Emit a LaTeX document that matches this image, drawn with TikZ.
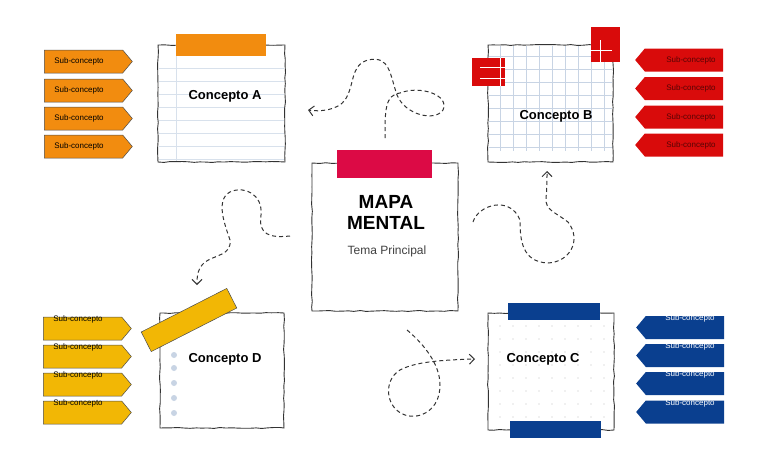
\documentclass[tikz,border=0pt]{standalone}
\usepackage{fontspec}
\setmainfont{Liberation Sans}
\usetikzlibrary{shapes.symbols,decorations.pathmorphing,arrows.meta}
\definecolor{orng}{HTML}{F28C0F}
\definecolor{rd}{HTML}{D90B0B}
\definecolor{crim}{HTML}{DC0A45}
\definecolor{ylw}{HTML}{F2B705}
\definecolor{blu}{HTML}{0A3F8F}
\definecolor{gridc}{HTML}{C8D4E4}
\begin{document}
\begin{tikzpicture}[x=1pt,y=-1pt,
  paper/.style={draw=black!80,line width=0.9pt,fill=white,decorate,decoration={random steps,segment length=6pt,amplitude=0.5pt}},
  sigR/.style={shape=signal,signal to=east,signal pointer angle=100,minimum width=88pt,minimum height=23pt,inner sep=0pt,draw=black!70,line width=0.5pt,fill=#1},
  sigL/.style={shape=signal,signal to=west,signal pointer angle=100,minimum width=88pt,minimum height=23pt,inner sep=0pt,fill=#1},
  subt/.style={font=\fontsize{8}{9}\selectfont},
  clab/.style={font=\bfseries\fontsize{13}{15}\selectfont},
  conn/.style={dash pattern=on 4pt off 3pt,line width=1pt,black!80,-{Straight Barb[length=5pt,width=10pt]}}]
\useasboundingbox (0,0) rectangle (768,466);
% ---- Concepto A
\draw[paper] (158,45) rectangle (285,162);
\begin{scope}
\clip (159,46) rectangle (284,161);
\foreach \y in {68,81,...,160} \draw[gridc!70,line width=0.5pt] (159,\y) -- (284,\y);
\draw[gridc!70,line width=0.5pt] (176,46) -- (176,161);
\end{scope}
\fill[orng] (176,34) rectangle (266,56);
\node[clab] (ca) at (225,96) {Concepto A};
\foreach \i/\y in {1/61.5,2/90.5,3/118.5,4/146.5}{
  \node[sigR=orng] (sa\i) at (83.5,\y) {};
  \node[subt] at (79,\y) {Sub-concepto};
}
% ---- Concepto B
\draw[paper] (488,45) rectangle (613,162);
\begin{scope}
\clip (489,46) rectangle (612,150);
\foreach \x in {500,513,...,612} \draw[gridc,line width=0.7pt] (\x,46) -- (\x,160);
\foreach \y in {56,69,...,160} \draw[gridc,line width=0.7pt] (489,\y) -- (612,\y);
\end{scope}
\fill[rd] (472,58) rectangle (505,86);
\fill[rd] (591,27) rectangle (620,62);
\draw[white,line width=0.6pt] (480,67)--(505,67) (480,78)--(505,78) (500,58)--(500,86) (591,50)--(612,50) (600,40)--(600,62);
\node[clab] (cb) at (556,116) {Concepto B};
\foreach \i/\y in {1/60,2/88.5,3/117,4/145}{
  \node[sigL=rd] (sb\i) at (684,\y) {};
  \node[subt,text=black!60!rd] at (691,\y) {Sub-concepto};
}
% ---- Centre
\draw[paper] (312,163) rectangle (458,311);
\fill[crim] (337,150) rectangle (432,178);
\node[font=\bfseries\fontsize{19}{21}\selectfont,align=center] (cm) at (386,212) {MAPA\\MENTAL};
\node[font=\fontsize{12}{14}\selectfont,text=black!75] (tp) at (387,251) {Tema Principal};
% ---- Concepto D
\draw[paper] (160,313) rectangle (284,428);
\foreach \y in {355,368,383,398,413} \fill[gridc] (174,\y) circle (3pt);
\fill[ylw,draw=black!70,line width=0.5pt,rotate around={27:(189,320)}] (141,309) rectangle (237,331);
\node[clab] (cd) at (225,359) {Concepto D};
\foreach \i/\y in {1/328.5,2/356.5,3/384.5,4/412.5}{
  \node[sigR=ylw] (sd\i) at (82.5,\y) {};
  \node[subt] at (78,\y-9) {Sub-concepto};
}
% ---- Concepto C
\draw[paper] (488,313) rectangle (614,430);
\begin{scope}
\clip (489,314) rectangle (613,429);
\foreach \x in {500,513,...,612} \foreach \y in {326,339,...,428} \fill[black!25] (\x,\y) circle (0.6pt);
\end{scope}
\fill[blu] (508,303) rectangle (600,320);
\fill[blu] (510,421) rectangle (601,438);
\node[clab] (cc) at (543,359) {Concepto C};
\foreach \i/\y in {1/327.5,2/355.5,3/383.5,4/412}{
  \node[sigL=blu] (sc\i) at (685,\y) {};
  \node[subt,text=white] at (690,\y-9) {Sub-concepto};
}
% ---- connectors
\coordinate (s1) at (385,138);
\coordinate (e1) at (308,110);
\draw[conn] (s1) .. controls (385,110) and (385,95) .. (400,93) .. controls (420,85) and (450,95) .. (443,110)
  .. controls (435,122) and (405,115) .. (397,95) .. controls (390,75) and (390,55) .. (368,60)
  .. controls (350,65) and (355,85) .. (345,100) .. controls (338,110) and (320,112) .. (e1);
\coordinate (s2) at (290,236);
\coordinate (e2) at (197,285);
\draw[conn] (s2) .. controls (270,238) and (258,235) .. (261,215) .. controls (263,195) and (245,185) .. (230,192)
  .. controls (215,200) and (225,225) .. (230,240) .. controls (232,255) and (215,255) .. (205,262) .. controls (198,268) and (197,275) .. (e2);
\coordinate (s3) at (473,222);
\coordinate (e3) at (547,171);
\draw[conn] (s3) .. controls (478,205) and (510,195) .. (520,220) .. controls (520,240) and (522,262) .. (548,263)
  .. controls (570,262) and (582,240) .. (568,222) .. controls (555,212) and (545,210) .. (546,198) .. controls (547,188) and (547,180) .. (e3);
\coordinate (s4) at (407,330);
\coordinate (e4) at (475,359);
\draw[conn] (s4) .. controls (425,345) and (440,365) .. (440,385) .. controls (440,410) and (420,420) .. (405,415)
  .. controls (385,408) and (383,380) .. (400,370) .. controls (415,362) and (440,360) .. (e4);
\end{tikzpicture}
\end{document}
